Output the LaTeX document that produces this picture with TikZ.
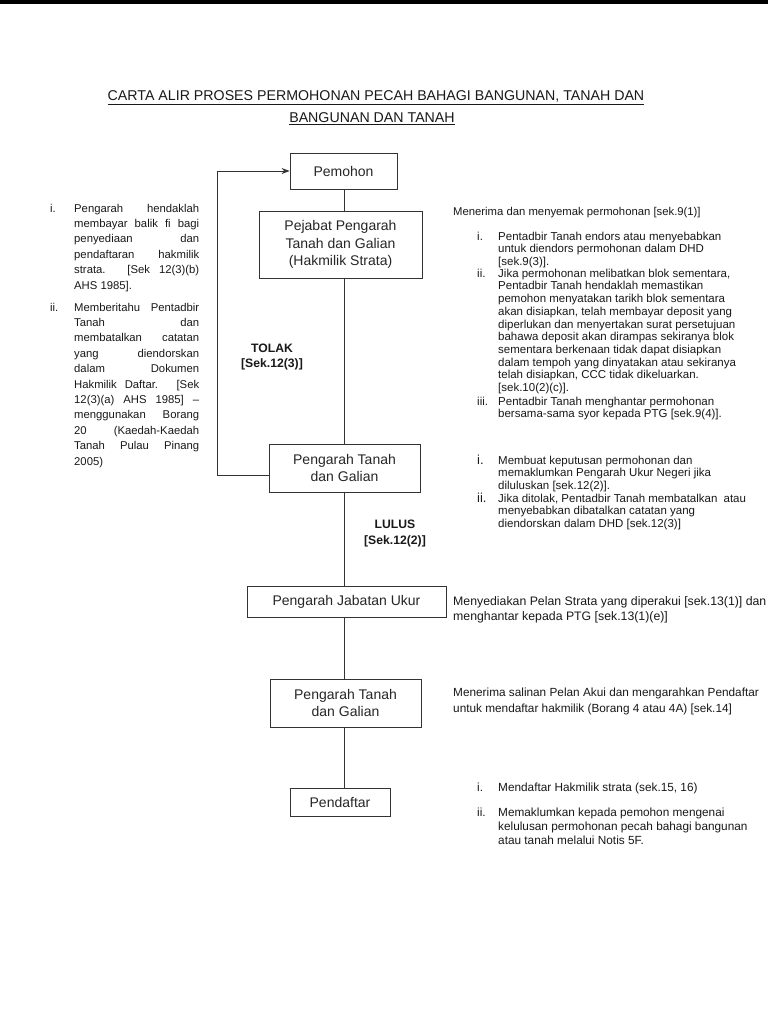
\documentclass[tikz,border=0pt]{standalone}
\usepackage{fontspec}
\setmainfont{Liberation Sans}
\usetikzlibrary{arrows.meta}
\newcommand{\jl}[1]{\makebox[125pt][s]{#1}}
\begin{document}
\begin{tikzpicture}[x=1pt,y=-1pt,
  box/.style={draw=black!80, line width=0.8pt, inner sep=0pt, align=center,
    font=\fontsize{14}{17.5}\selectfont, text=black!85},
  conn/.style={draw=black!80, line width=0.8pt},
  txt/.style={inner sep=0pt, anchor=north west, yshift=8.3pt, align=left, text=black!90,
    font=\fontsize{11.5}{12.7}\selectfont},
  ltxt/.style={txt, font=\fontsize{11.3}{15.4}\selectfont},
  titletxt/.style={inner sep=0pt, anchor=base, text=black!90,
    font=\fontsize{14.2}{17}\selectfont},
  lbl/.style={inner sep=0pt, align=center, text=black!90,
    font=\fontsize{12.2}{15.5}\selectfont\bfseries},
  biglab/.style={txt, yshift=1pt, font=\fontsize{13}{14}\selectfont}
]
\useasboundingbox (0,0) rectangle (768,1024);
\fill[white] (0,0) rectangle (768,1024);
\fill[black] (0,0) rectangle (768,4.5);

% title
\node[titletxt] (t1) at (376,101) {\underline{CARTA ALIR PROSES PERMOHONAN PECAH BAHAGI BANGUNAN, TANAH DAN}};
\node[titletxt] (t2) at (372,123) {\underline{BANGUNAN DAN TANAH}};

% boxes
\node[box, minimum width=107pt, minimum height=36pt] (pemohon) at (343.5,171) {Pemohon};
\node[box, minimum width=163pt, minimum height=67pt] (pejabat) at (340.5,244.5) {Pejabat Pengarah\\Tanah dan Galian\\(Hakmilik Strata)};
\node[box, minimum width=151pt, minimum height=48pt] (ptg1) at (344.5,468) {Pengarah Tanah\\dan Galian};
\node[box, minimum width=199pt, minimum height=31pt] (ju) at (346.5,601.5) {Pengarah Jabatan Ukur};
\node[box, minimum width=151pt, minimum height=48pt] (ptg2) at (345.5,703) {Pengarah Tanah\\dan Galian};
\node[box, minimum width=100pt, minimum height=28pt] (pendaftar) at (340,802) {Pendaftar};

% connectors
\coordinate (spine) at (344.5,0);
\draw[conn] (pemohon.south -| spine) -- (pejabat.north -| spine);
\draw[conn] (pejabat.south -| spine) -- (ptg1.north -| spine);
\draw[conn] (ptg1.south -| spine) -- (ju.north -| spine);
\draw[conn] (ju.south -| spine) -- (ptg2.north -| spine);
\draw[conn] (ptg2.south -| spine) -- (pendaftar.north -| spine);
\coordinate (loop) at (217,475);
\draw[conn, -{Stealth[length=8pt,width=6pt]}] (ptg1.west |- loop) -- (loop) |- (pemohon.west);

% decision labels
\node[lbl] (tolak) at (272,357) {TOLAK\\{[}Sek.12(3)]};
\node[lbl] (lulus) at (395,533.5) {LULUS\\{[}Sek.12(2)]};

% left column
\node[ltxt] (l1i) at (50,212) {i.};
\node[ltxt] (l1) at (74,212) {\jl{Pengarah hendaklah}\\\jl{membayar balik fi bagi}\\\jl{penyediaan dan}\\\jl{pendaftaran hakmilik}\\\jl{strata. [Sek 12(3)(b)}\\AHS 1985].};
\node[ltxt] (l2i) at (50,311) {ii.};
\node[ltxt] (l2) at (74,311) {\jl{Memberitahu Pentadbir}\\\jl{Tanah dan}\\\jl{membatalkan catatan}\\\jl{yang diendorskan}\\\jl{dalam Dokumen}\\\jl{Hakmilik Daftar. [Sek}\\\jl{12(3)(a) AHS 1985] \textendash}\\\jl{menggunakan Borang}\\\jl{20 (Kaedah-Kaedah}\\\jl{Tanah Pulau Pinang}\\2005)};

% right block 1
\node[txt, font=\fontsize{11.3}{12.7}\selectfont] (r1h) at (453,215) {Menerima dan menyemak permohonan [sek.9(1)]};
\node[txt] (r1ai) at (477,240) {i.};
\node[txt] (r1a) at (498,240) {Pentadbir Tanah endors atau menyebabkan\\untuk diendors permohonan dalam DHD\\{[}sek.9(3)].};
\node[txt] (r1bi) at (477,277) {ii.};
\node[txt] (r1b) at (498,277) {Jika permohonan melibatkan blok sementara,\\Pentadbir Tanah hendaklah memastikan\\pemohon menyatakan tarikh blok sementara\\akan disiapkan, telah membayar deposit yang\\diperlukan dan menyertakan surat persetujuan\\bahawa deposit akan dirampas sekiranya blok\\sementara berkenaan tidak dapat disiapkan\\dalam tempoh yang dinyatakan atau sekiranya\\telah disiapkan, CCC tidak dikeluarkan.\\{[}sek.10(2)(c)].};
\node[txt] (r1ci) at (477,405) {iii.};
\node[txt] (r1c) at (498,405) {Pentadbir Tanah menghantar permohonan\\bersama-sama syor kepada PTG [sek.9(4)].};

% right block 2
\node[biglab] (r2ai) at (477,464) {i.};
\node[txt] (r2a) at (498,464) {Membuat keputusan permohonan dan\\memaklumkan Pengarah Ukur Negeri jika\\diluluskan [sek.12(2)].};
\node[biglab] (r2bi) at (477,502) {ii.};
\node[txt] (r2b) at (498,502) {Jika ditolak, Pentadbir Tanah membatalkan\hspace{3pt} atau\\menyebabkan dibatalkan catatan yang\\diendorskan dalam DHD [sek.12(3)]};

% right block 3
\node[txt, font=\fontsize{12.3}{15}\selectfont] (r3) at (453,605) {Menyediakan Pelan Strata yang diperakui [sek.13(1)] dan\\menghantar kepada PTG [sek.13(1)(e)]};

% right block 4
\node[txt, font=\fontsize{11.8}{16.5}\selectfont] (r4) at (453,696) {Menerima salinan Pelan Akui dan mengarahkan Pendaftar\\untuk mendaftar hakmilik (Borang 4 atau 4A) [sek.14]};

% right block 5
\node[txt, font=\fontsize{11.8}{14}\selectfont] (r5ai) at (477,791) {i.};
\node[txt, font=\fontsize{11.8}{14}\selectfont] (r5a) at (498,791) {Mendaftar Hakmilik strata (sek.15, 16)};
\node[txt, font=\fontsize{11.8}{14}\selectfont] (r5bi) at (477,816) {ii.};
\node[txt, font=\fontsize{11.8}{14}\selectfont] (r5b) at (498,816) {Memaklumkan kepada pemohon mengenai\\kelulusan permohonan pecah bahagi bangunan\\atau tanah melalui Notis 5F.};
\end{tikzpicture}
\end{document}
